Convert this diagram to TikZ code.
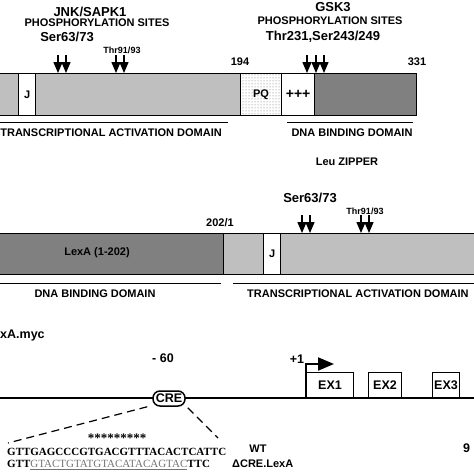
\documentclass[tikz,border=0pt]{standalone}
\usepackage{fontspec}
\setmainfont{Liberation Sans}
\newfontfamily\seqfont{Liberation Serif}
\usetikzlibrary{arrows.meta,patterns}
\definecolor{dgray}{gray}{0.50}
\definecolor{lgray}{gray}{0.75}
\begin{document}
\begin{tikzpicture}[x=1pt,y=-1pt,
  lbl/.style={font=\fontsize{11}{13}\selectfont\bfseries, inner sep=0pt},
  big/.style={font=\fontsize{13}{15}\selectfont\bfseries, inner sep=0pt},
  small/.style={font=\fontsize{9}{10}\selectfont\bfseries, inner sep=0pt},
  med/.style={font=\fontsize{12.5}{14}\selectfont\bfseries, inner sep=0pt},
  seg/.style={draw, line width=1.2pt, rectangle, inner sep=0pt, anchor=north west,
    font=\fontsize{11}{13}\selectfont\bfseries},
  site/.style={line width=1.3pt, -{Triangle[width=9pt,length=11pt]}},
  dom/.style={line width=0.9pt},
  exon/.style={draw, line width=1.1pt, rectangle, inner sep=0pt, anchor=south west,
    font=\fontsize{12.5}{14}\selectfont\bfseries, fill=white},
  cut/.style={line width=1.2pt, dash pattern=on 8pt off 5pt}
]
\useasboundingbox (0,0) rectangle (474,474);
\clip (0,0) rectangle (474,474);

% ---------------- top protein bar ----------------
\node[big] (jnk) at (90,12) {JNK/SAPK1};
\node[lbl] (phos1) at (97,23) {PHOSPHORYLATION SITES};
\node[big] (ser1) at (67,37) {Ser63/73};
\node[small] (thr1) at (122,50) {Thr91/93};
\node[big] (gsk) at (333,7) {GSK3};
\node[lbl] (phos2) at (330,21) {PHOSPHORYLATION SITES};
\node[big] (gsksites) at (323,37) {Thr231,Ser243/249};
\node[lbl] (n194) at (240,62) {194};
\node[lbl] (n331) at (417,62) {331};

\node[seg, fill=lgray, minimum width=21, minimum height=42] (a1) at (-3,73) {};
\node[seg, fill=white, minimum width=17, minimum height=42] (aJ) at (18,73) {J};
\node[seg, fill=lgray, minimum width=205, minimum height=42] (a3) at (35,73) {};
\node[seg, pattern=dots, pattern color=black!60, minimum width=41, minimum height=42] (aPQ) at (240,73) {PQ};
\node[seg, fill=white, minimum width=33, minimum height=42, font=\fontsize{14}{14}\selectfont\bfseries] (aplus) at (281,73) {+++};
\node[seg, fill=dgray, minimum width=102, minimum height=42] (adark) at (314,73) {};

\foreach \x/\n in {58/p1,66/p2,116/p3,124/p4} {
  \coordinate (\n) at (\x,55);
  \draw[site] (\n) -- (\n |- a3.north);
}
\foreach \x/\n in {307/g1,316/g2,324/g3} {
  \coordinate (\n) at (\x,55);
  \draw[site] (\n) -- (\n |- adark.north);
}

\coordinate (t1a) at (-3,122); \coordinate (t1b) at (228,122);
\draw[dom] (t1a) -- (t1b);
\coordinate (t2a) at (287,122); \coordinate (t2b) at (413,122);
\draw[dom] (t2a) -- (t2b);
\node[lbl, anchor=east] (tad1) at (222,133) {TRANSCRIPTIONAL ACTIVATION DOMAIN};
\node[lbl] (dbd1) at (352,133) {DNA BINDING DOMAIN};
\node[lbl] (leu) at (347,162) {Leu ZIPPER};

% ---------------- LexA fusion bar ----------------
\node[big] (ser2) at (310,198) {Ser63/73};
\node[small] (thr2) at (365,211) {Thr91/93};
\node[lbl] (n202) at (220,223) {202/1};

\node[seg, fill=dgray, minimum width=226, minimum height=41] (lexa) at (-3,233) {};
\node[lbl] (lexalbl) at (97,253) {LexA (1-202)};
\node[seg, fill=lgray, minimum width=40, minimum height=41] (b2) at (223,233) {};
\node[seg, fill=white, minimum width=17, minimum height=41] (bJ) at (263,233) {J};
\node[seg, fill=lgray, minimum width=200, minimum height=41] (b4) at (280,233) {};

\foreach \x/\n in {302/q1,310/q2,361/q3,369/q4} {
  \coordinate (\n) at (\x,215);
  \draw[site] (\n) -- (\n |- b4.north);
}

\coordinate (d1a) at (-3,283); \coordinate (d1b) at (221,283);
\draw[dom] (d1a) -- (d1b);
\coordinate (d2a) at (233,283); \coordinate (d2b) at (477,283);
\draw[dom] (d2a) -- (d2b);
\node[lbl] (dbd2) at (95,294) {DNA BINDING DOMAIN};
\node[lbl, anchor=west] (tad2) at (247,294) {TRANSCRIPTIONAL ACTIVATION DOMAIN};

% ---------------- reporter gene ----------------
\node[med, anchor=west] (myc) at (0,335) {xA.myc};
\node[med] (m60) at (163,358) {- 60};

\coordinate (gl) at (-3,398); \coordinate (gr) at (477,398);
\draw[line width=1.7pt] (gl) -- (gr);

\node[draw, line width=1.5pt, fill=white, rounded corners=7pt, minimum width=32,
  minimum height=15, inner sep=0pt, font=\fontsize{12.5}{14}\selectfont\bfseries] (cre) at (169,398.5) {CRE};

\node[exon, minimum width=47, minimum height=25] (ex1) at (306,398) {EX1};
\node[exon, minimum width=33, minimum height=25] (ex2) at (368,398) {EX2};
\node[exon, minimum width=27, minimum height=25] (ex3) at (432,398) {EX3};

\coordinate (tss) at (306,364);
\coordinate (tssend) at (334,364);
\draw[line width=2pt, -{Triangle[width=13pt,length=16pt]}] (ex1.south west) -- (tss) -- (tssend);
\node[med] (plus1) at (297,359) {+1};

\coordinate (cutl) at (8,443);
\coordinate (cutr) at (218,438);
\draw[cut] (cre.south west) ++(-5,0) coordinate (crel) -- (cutl);
\draw[cut] (cre.south east) ++(2,1) coordinate (crer) -- (cutr);

\node[font=\fontsize{13}{13}\selectfont\seqfont\bfseries, inner sep=0pt, anchor=north] (stars) at (117,434) {*********};
\node[font=\fontsize{11}{13}\selectfont\seqfont\bfseries, inner sep=0pt, anchor=base west] (seq1) at (7,455) {GTTGAGCCCGTGACGTTTACACTCATTC};
\node[font=\fontsize{11}{13}\selectfont\seqfont, inner sep=0pt, anchor=base west] (seq2) at (7,467.5)
  {\bfseries GTT\mdseries\textcolor{black!55}{\underline{GTACTGTATGTACATACAGTAC}}\bfseries TTC};
\node[lbl] (wt) at (258,449) {WT};
\node[lbl, anchor=west] (dcre) at (232,464) {ΔCRE.LexA};
\node[med, anchor=west] (nine) at (463,448) {9};
\end{tikzpicture}
\end{document}
